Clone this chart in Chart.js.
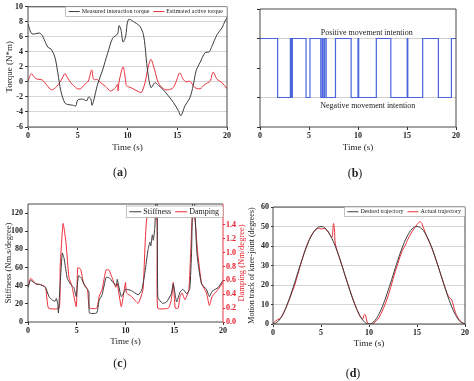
<!DOCTYPE html>
<html>
<head>
<meta charset="utf-8">
<script src="https://cdn.jsdelivr.net/npm/chart.js@4"></script>
<style>
  body { margin: 0; width: 474px; height: 381px; background: #fff; position: relative; overflow: hidden;
         font-family: 'Liberation Serif', 'Times New Roman', serif; color: #222; }
  canvas { position: absolute; }
  .tag { position: absolute; font-size: 12px; transform: translate(-50%, -50%); white-space: nowrap; }
</style>
</head>
<body>
<canvas id="ca" width="237" height="190" style="left:0;top:0"></canvas>
<canvas id="cb" width="237" height="190" style="left:237px;top:0"></canvas>
<canvas id="cc" width="248" height="191" style="left:0;top:190px"></canvas>
<canvas id="cd" width="237" height="191" style="left:237px;top:190px"></canvas>
<div class="tag" style="left:120px;top:172px">(<b>a</b>)</div>
<div class="tag" style="left:355px;top:173px">(<b>b</b>)</div>
<div class="tag" style="left:120px;top:363px">(<b>c</b>)</div>
<div class="tag" style="left:353px;top:373px">(<b>d</b>)</div>
<script>
// ---- (a) torques ----
let measT = [0,0.4,1.2,1.5,2.0,2.3,2.7,3.0,3.3,3.7,4.0,4.5,4.8,5.0,5.5,5.9,6.1,6.3,6.45,7.0,7.5,8.0,8.5,9.0,9.15,9.35,9.55,9.8,10.1,10.75,11.25,11.6,11.76,12.0,12.36,12.76,13.1,13.6,14.1,14.6,15.1,15.37,15.77,16.27,16.6,16.9,17.3,17.8,18.2,18.5,19.0,19.5,19.8,20];
let measTorque = [7.7,6.4,6.5,6.0,4.6,4.4,3.3,1.2,-1.2,-2.8,-3.0,-3.1,-3.2,-2.4,-2.3,-2.5,-2.0,-2.2,-3.1,-0.3,1.6,3.8,5.8,6.4,7.5,6.9,5.3,6.0,8.3,7.9,7.4,6.3,4.8,1.7,-0.75,-0.1,-0.45,-1.05,-1.85,-2.7,-3.8,-4.5,-3.2,-2.1,-0.5,1.5,2.6,3.9,4.0,4.8,6.3,7.2,8.1,8.5];
let activeT = [0,0.34,0.77,1.44,1.94,2.35,2.78,3.28,3.7,3.95,4.3,4.6,4.95,5.3,5.7,6.05,6.4,6.6,7.0,7.3,7.8,8.3,8.8,9.0,9.05,9.15,9.55,9.8,9.9,10.4,11.1,11.4,11.76,12.1,12.36,12.7,13.1,13.6,14.1,14.6,14.9,15.25,15.6,15.9,16.27,16.77,17.3,17.8,18.3,18.6,19.0,19.5,20];
let activeTorque = [0.1,1.1,0.45,0.25,-0.5,-1.05,-0.75,0.1,1.1,0.6,-0.1,-0.5,-0.9,-0.9,-0.3,0.1,1.6,0.35,0.3,-0.1,-0.6,-1.2,-0.75,-0.3,-1.2,0,2.0,0.3,-0.5,-0.8,-1.3,-1.4,-0.1,2.1,3.0,1.7,-0.1,-0.9,-1.05,-0.75,0.1,1.2,0.35,0,0.1,-0.75,-0.9,-0.3,0.1,1.3,0.35,-0.1,-0.9];

// ---- (b) movement intention (+1 / -1) ----
let intentT = [0,1.8,3.1,3.2,3.3,4.7,5.1,6.2,6.35,6.45,6.6,6.75,7.7,9.3,10.0,10.07,11.87,13.35,15.02,15.08,16.6,18.2,19.53,20];
let intentState = [1,-1,1,-1,1,-1,1,-1,1,-1,1,-1,1,-1,1,-1,1,-1,1,-1,1,-1,1,1];
let intentNotes = ['Positive movement intention', 'Negative movement intention'];

// ---- (c) stiffness / damping ----
let stiffT = [0,0.27,0.8,1.3,1.8,2.15,2.5,2.8,2.9,3.05,3.12,3.3,3.52,3.7,4.03,4.4,4.7,4.95,5.1,5.2,5.5,5.8,6.1,6.25,6.3,7.05,7.3,7.6,8.0,8.3,8.7,9.05,9.15,9.57,10.0,10.12,10.6,11.3,11.66,12.0,12.3,12.5,12.6,12.75,12.85,13.0,13.15,13.25,13.32,13.8,14.2,14.7,14.9,15.1,15.25,15.6,15.9,16.3,16.6,16.78,16.9,17.05,17.3,17.5,17.8,18.3,18.6,18.9,19.5,20];
let stiffness = [38,46,42,41,38,28,24,23,26,20,10,43,76,70,48,41,38,28,45,51,48,40,36,33,10,10,24,30,49,49,44,40,47,28,36,36,34.6,30,35,55,79,88,84,96,90,103,140,140,27,20.5,22,31,42,30,22,33,36,31,37,79,140,140,79,60,42,36,28,34,38,46];
let dampT = [0,0.27,0.8,1.3,1.8,2.1,3.2,3.3,3.6,3.9,4.2,4.5,4.95,5.1,5.4,5.7,6.1,6.3,7.05,7.3,7.6,8.0,8.3,8.7,9.0,9.15,9.57,10.0,10.1,10.6,11.3,11.8,12.2,13.2,13.3,14.4,14.7,14.9,15.1,15.4,15.6,15.8,16.1,16.5,16.7,16.85,17.1,17.4,17.8,18.3,18.6,18.9,19.5,20];
let damping = [0.50,0.63,0.55,0.54,0.50,0.20,0.20,0.80,1.42,1.14,0.64,0.52,0.22,0.78,0.76,0.56,0.47,0.20,0.20,0.37,0.47,0.75,0.75,0.61,0.50,0.56,0.22,0.57,0.42,0.37,0.27,0.47,1.50,1.50,0.20,0.20,0.32,0.57,0.20,0.20,0.37,0.42,0.32,0.47,1.05,1.50,1.50,1.0,0.56,0.42,0.24,0.37,0.47,0.57];

// ---- (d) knee trajectory ----
let desiredT = [0,0.5,1,1.5,2,2.5,3,3.5,4,4.5,5,5.5,6,6.5,7,7.5,8,8.5,9,9.5,10,10.5,11,11.5,12,12.5,13,13.5,14,14.5,15,15.5,16,16.5,17,17.5,18,18.5,19,19.5,20];
let desired = [0,1.2,4.8,10.3,17.3,25,32.7,39.7,45.2,48.8,50,48.8,45.2,39.7,32.7,25,17.3,10.3,4.8,1.2,0,1.2,4.8,10.3,17.3,25,32.7,39.7,45.2,48.8,50,48.8,45.2,39.7,32.7,25,17.3,10.3,4.8,1.2,0];
let actualT = [0,0.25,0.5,0.75,1,1.5,2,2.3,2.5,3,3.5,4,4.5,4.8,5,5.3,5.6,5.9,6.15,6.3,6.4,6.5,7,7.5,8,8.5,9,9.2,9.35,9.5,9.65,9.8,10,10.3,10.5,11,11.5,12,12.5,13,13.5,13.8,14,14.5,15,15.3,15.5,16,16.5,17,17.5,18,18.3,18.6,19,19.5,20];
let actual = [0.3,1.5,2.3,2.8,4.5,10,16.5,20.5,24,32.5,40,45.5,48.5,49.2,48.7,49,48.2,46,44.5,51.5,49,41,33,25,17.5,10.5,4.5,3,2.6,4.8,4.5,1,0,0,0.5,3,8,14.5,23,31,38,40.5,43,47.5,51,52.5,51.5,45,39.5,32.5,25,17.5,14,12.5,6,1.5,0];

const FONT = "'Liberation Serif', 'Times New Roman', serif";
const DARK = '#3c3c3c';
const RED = '#e8303c';
const GRID = '#d6d6d6';
Chart.defaults.font.family = FONT;
Chart.defaults.color = '#222';
Chart.defaults.animation = false;

function pts(xs, ys) {
    return xs.map((x, i) => ({x: x, y: ys[i]}));
}

// box around the plot area (origin style)
const framePlugin = {
    id: 'frame',
    afterDatasetsDraw(chart, args, o) {
        const a = chart.chartArea, c = chart.ctx;
        c.save();
        c.lineWidth = 0.9;
        c.strokeStyle = '#333';
        c.beginPath();
        c.moveTo(a.right, a.top); c.lineTo(a.left, a.top);
        c.lineTo(a.left, a.bottom); c.lineTo(a.right, a.bottom);
        c.stroke();
        c.strokeStyle = o.rightColor || '#333';
        c.beginPath(); c.moveTo(a.right, a.top); c.lineTo(a.right, a.bottom); c.stroke();
        c.restore();
    }
};

// legend drawn in a white box at the top right of the plot
const boxLegend = {
    id: 'boxLegend',
    afterDatasetsDraw(chart, args, o) {
        if (!o.size) return;
        const c = chart.ctx, a = chart.chartArea;
        c.save();
        c.font = o.size + 'px ' + FONT;
        const items = chart.data.datasets.map(d => ({t: d.label, col: d.borderColor}));
        let w = 3;
        items.forEach(it => { it.w = c.measureText(it.t).width; w += o.line + 2 + it.w + 4; });
        const h = o.size + 3.5;
        const x0 = a.right - w, y0 = a.top + (o.dy || 0);
        c.fillStyle = '#fff';
        c.fillRect(x0, y0, w, h);
        c.strokeStyle = '#999'; c.lineWidth = 0.6;
        c.strokeRect(x0, y0, w, h);
        let x = x0 + 3;
        const ym = y0 + h / 2;
        items.forEach(it => {
            c.strokeStyle = it.col; c.lineWidth = 1;
            c.beginPath(); c.moveTo(x, ym); c.lineTo(x + o.line, ym); c.stroke();
            x += o.line + 2;
            c.fillStyle = '#222'; c.textBaseline = 'middle';
            c.fillText(it.t, x, ym);
            x += it.w + 4;
        });
        c.restore();
    }
};

// free texts: notes at data positions, rotated side label
const notesPlugin = {
    id: 'notes',
    afterDraw(chart, args, o) {
        const c = chart.ctx, a = chart.chartArea;
        c.save();
        c.textAlign = 'center'; c.textBaseline = 'middle';
        (o.items || []).forEach(n => {
            c.font = n.size + 'px ' + FONT;
            c.fillStyle = n.color || '#222';
            c.fillText(n.text, chart.scales.x.getPixelForValue(n.x), chart.scales.y.getPixelForValue(n.y) + n.dy);
        });
        if (o.side) {
            c.translate(a.right + o.side.dx, (a.top + a.bottom) / 2);
            c.rotate(-Math.PI / 2);
            c.font = o.side.size + 'px ' + FONT;
            c.fillStyle = o.side.color;
            c.fillText(o.side.text, 0, 0);
        }
        c.restore();
    }
};

function timeAxis(h) {
    return {
        type: 'linear', min: 0, max: 20,
        afterFit: s => { s.height = h; },
        ticks: {stepSize: 5, maxRotation: 0, padding: 1, font: {size: 8, weight: 'bold'}, color: '#222'},
        grid: {drawOnChartArea: false, tickLength: 3, color: '#333'},
        border: {display: false},
        title: {display: true, text: 'Time (s)', font: {size: 9}, padding: 0, color: '#222'}
    };
}

function lineSet(label, data, color, extra) {
    return Object.assign({
        label: label, data: data, borderColor: color, backgroundColor: color,
        borderWidth: 1, pointRadius: 0, tension: 0.3, fill: false, clip: 0
    }, extra || {});
}

const noPoints = {responsive: false, events: []};

// ========== (a) ==========
new Chart(document.getElementById('ca'), {
    type: 'line',
    data: {datasets: [
        lineSet('Measured interaction torque', pts(measT, measTorque), DARK),
        lineSet('Estimated active torque', pts(activeT, activeTorque), RED)
    ]},
    options: Object.assign({}, noPoints, {
        layout: {padding: {left: 0, top: 6, right: 10, bottom: 37}},
        scales: {
            x: timeAxis(26),
            y: {
                min: -6, max: 10,
                afterFit: s => { s.width = 28; },
                ticks: {stepSize: 2, padding: 2, font: {size: 8, weight: 'bold'}},
                grid: {color: GRID, tickColor: '#333', tickLength: 3},
                border: {display: false},
                title: {display: true, text: 'Torque (N*m)', font: {size: 9}, padding: {top: 4.6, bottom: 0}}
            }
        },
        plugins: {
            legend: {display: false}, tooltip: {enabled: false},
            boxLegend: {size: 6, line: 11, dy: 0}
        }
    }),
    plugins: [framePlugin, boxLegend]
});

// ========== (b) ==========
new Chart(document.getElementById('cb'), {
    type: 'line',
    data: {datasets: [
        lineSet('Movement intention', pts(intentT, intentState), '#4a64dc', {stepped: 'before', tension: 0, borderWidth: 1.2})
    ]},
    options: Object.assign({}, noPoints, {
        layout: {padding: {left: 0, top: 9, right: 18, bottom: 37}},
        scales: {
            x: timeAxis(26),
            y: {
                min: -2, max: 2,
                afterFit: s => { s.width = 23; },
                ticks: {stepSize: 1, display: false},
                grid: {color: ctx => Math.abs(ctx.tick.value) === 1 ? '#cfcfcf' : 'rgba(0,0,0,0)', tickColor: '#333', tickLength: 3},
                border: {display: false}
            }
        },
        plugins: {
            legend: {display: false}, tooltip: {enabled: false},
            notes: {items: [
                {text: intentNotes[0], x: 10.9, y: 1, dy: -6, size: 8},
                {text: intentNotes[1], x: 11.0, y: -1, dy: 8, size: 8}
            ]}
        }
    }),
    plugins: [framePlugin, notesPlugin]
});

// ========== (c) ==========
new Chart(document.getElementById('cc'), {
    type: 'line',
    data: {datasets: [
        lineSet('Stiffness', pts(stiffT, stiffness), DARK, {tension: 0.15, yAxisID: 'y'}),
        lineSet('Damping', pts(dampT, damping), '#ee2a36', {tension: 0.15, yAxisID: 'y1'})
    ]},
    options: Object.assign({}, noPoints, {
        layout: {padding: {left: 0, top: 14, right: 0, bottom: 33.6}},
        scales: {
            x: timeAxis(25.4),
            y: {
                position: 'left', min: 0, max: 130,
                afterBuildTicks: s => { s.ticks = s.ticks.filter(t => t.value <= 120); },
                afterFit: s => { s.width = 28; },
                ticks: {stepSize: 20, padding: 2, font: {size: 8, weight: 'bold'}},
                grid: {drawOnChartArea: false, color: '#333', tickLength: 3},
                border: {display: false},
                title: {display: true, text: 'Stiffness (Nm.s/degree)', font: {size: 8.5}, padding: {top: 4, bottom: 0}}
            },
            y1: {
                position: 'right', min: 0, max: 1.7,
                afterBuildTicks: s => { s.ticks = s.ticks.filter(t => t.value <= 1.6001); },
                afterFit: s => { s.width = 25; },
                ticks: {stepSize: 0.2, padding: 1, color: '#e8202c', font: {size: 8, weight: 'bold'}, callback: v => v.toFixed(1)},
                grid: {drawOnChartArea: false, color: '#e8202c', tickLength: 2},
                border: {display: false}
            }
        },
        plugins: {
            legend: {display: false}, tooltip: {enabled: false},
            frame: {rightColor: '#e8202c'},
            boxLegend: {size: 8, line: 12, dy: 2},
            notes: {side: {text: 'Damping (Nm/degree)', dx: 19, size: 8.5, color: '#e8202c'}}
        }
    }),
    plugins: [framePlugin, boxLegend, notesPlugin]
});

// ========== (d) ==========
new Chart(document.getElementById('cd'), {
    type: 'line',
    data: {datasets: [
        lineSet('Desired trajectory', pts(desiredT, desired), DARK, {tension: 0.4}),
        lineSet('Actual trajectory', pts(actualT, actual), RED, {tension: 0.35})
    ]},
    options: Object.assign({}, noPoints, {
        layout: {padding: {left: 0, top: 17, right: 9, bottom: 31.6}},
        scales: {
            x: timeAxis(25.4),
            y: {
                min: 0, max: 60,
                afterFit: s => { s.width = 36; },
                ticks: {stepSize: 10, padding: 2, font: {size: 8, weight: 'bold'}},
                grid: {color: GRID, tickColor: '#333', tickLength: 2},
                border: {display: false},
                title: {display: true, text: 'Motion track of knee-joint (degrees)', font: {size: 8}, padding: {top: 10.2, bottom: 0}}
            }
        },
        plugins: {
            legend: {display: false}, tooltip: {enabled: false},
            boxLegend: {size: 6, line: 11, dy: 0}
        }
    }),
    plugins: [framePlugin, boxLegend]
});
</script>
</body>
</html>
